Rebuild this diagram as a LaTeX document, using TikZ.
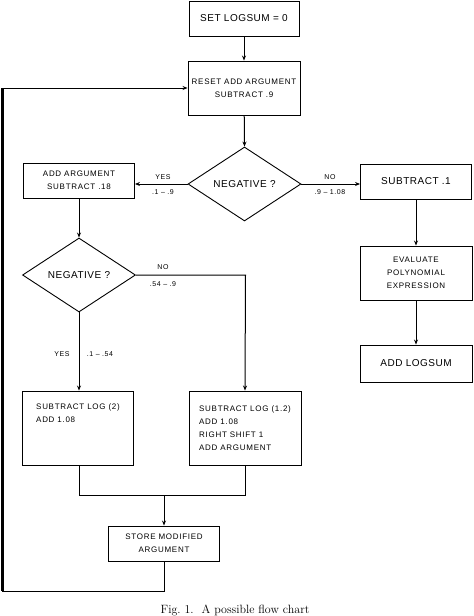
\documentclass[tikz,border=0pt]{standalone}
\usepackage{fontspec}
\usetikzlibrary{shapes.geometric,arrows.meta}
\newfontfamily\bigfont[LetterSpace=5]{Liberation Sans}
\newfontfamily\midfont[LetterSpace=9]{Liberation Sans}
\newfontfamily\smallfont[LetterSpace=8]{Liberation Sans}
\tikzset{
  box/.style={draw, line width=0.9pt, inner sep=0pt, align=center},
  bigtxt/.style={font=\bigfont\fontsize{10}{12}\selectfont},
  midtxt/.style={font=\midfont\fontsize{8}{13}\selectfont},
  lbl/.style={font=\smallfont\fontsize{7}{8}\selectfont, inner sep=0pt},
  cond/.style={diamond, draw, line width=0.9pt, inner sep=0pt,
    minimum width=113pt, minimum height=74pt, bigtxt},
  flow/.style={line width=1pt, -{Stealth[length=5pt,width=4pt]}},
  plain/.style={line width=1pt}
}
\begin{document}
\begin{tikzpicture}[x=1pt,y=-1pt]
\useasboundingbox (0,0) rectangle (474,616);
% boxes
\node[box, bigtxt, minimum width=110pt, minimum height=35pt] (set) at (244,18.5) {SET LOGSUM = 0};
\node[box, midtxt, minimum width=112pt, minimum height=54pt] (reset) at (244,88) {RESET ADD ARGUMENT\\SUBTRACT .9};
\node[cond] (d1) at (244.5,184) {NEGATIVE ?};
\node[box, midtxt, minimum width=111pt, minimum height=35pt] (addarg) at (79,180.5) {ADD ARGUMENT\\SUBTRACT .18};
\node[box, bigtxt, minimum width=111pt, minimum height=35pt] (sub1) at (416,181.5) {SUBTRACT .1};
\node[box, midtxt, minimum width=112pt, minimum height=54pt] (eval) at (416,273) {EVALUATE\\POLYNOMIAL\\EXPRESSION};
\node[box, bigtxt, minimum width=112pt, minimum height=37pt] (addlog) at (416,363.5) {ADD LOGSUM};
\node[cond] (d2) at (79,275) {NEGATIVE ?};
\node[box, midtxt, align=left, minimum width=111pt, minimum height=74pt] (slogtwo) at (78,428) {SUBTRACT LOG (2)\\ADD 1.08\\\strut\\\strut};
\node[box, midtxt, align=left, minimum width=112pt, minimum height=74pt] (slogot) at (245,428) {SUBTRACT LOG (1.2)\\ADD 1.08\\RIGHT SHIFT 1\\ADD ARGUMENT};
\node[box, midtxt, minimum width=111pt, minimum height=35pt] (store) at (164,543.5) {STORE MODIFIED\\ARGUMENT};
% labels
\node[lbl] (yesa) at (163,177) {YES};
\node[lbl] (rga) at (163,192) {.1 – .9};
\node[lbl] (noa) at (330,177) {NO};
\node[lbl] (rgb) at (330,192) {.9 – 1.08};
\node[lbl] (nob) at (163,267) {NO};
\node[lbl] (rgc) at (163,284) {.54 – .9};
\node[lbl] (yesb) at (62,354) {YES};
\node[lbl] (rgd) at (100,354) {.1 – .54};
% coordinates
\coordinate (ne) at (245.5,275);
\coordinate (jl) at (79,495);
\coordinate (jr) at (245.5,495);
\coordinate (jm) at (164,495);
\coordinate (lb) at (2.5,591);
\coordinate (lt) at (2.5,88);
\coordinate (mb) at (164,591);
% connectors
\draw[flow] (set) -- (reset);
\draw[flow] (reset) -- (d1.north);
\draw[flow] (d1.west) -- (d1.west -| addarg.east);
\draw[flow] (d1.east) -- (d1.east -| sub1.west);
\draw[flow] (addarg) -- (d2.north);
\draw[flow] (d2.east) -- (ne) -- (slogot.north);
\draw[flow] (d2.south) -- (slogtwo.north -| d2.south);
\draw[flow] (sub1) -- (eval);
\draw[flow] (eval) -- (addlog);
\draw[plain] (slogtwo.south -| jl) -- (jl) -- (jr) -- (slogot.south -| jr);
\draw[flow] (jm) -- (store.north);
\draw[flow] (store.south) -- (mb) -- (lb) -- (lt) -- (reset.west);
\draw[line width=2.5pt] (lb) -- (lt);
% caption
\node[anchor=base, inner sep=0pt, font=\fontsize{12}{14}\selectfont] (cap) at (235,613) {Fig.\ 1.\ \ A possible flow chart};
\end{tikzpicture}
\end{document}
